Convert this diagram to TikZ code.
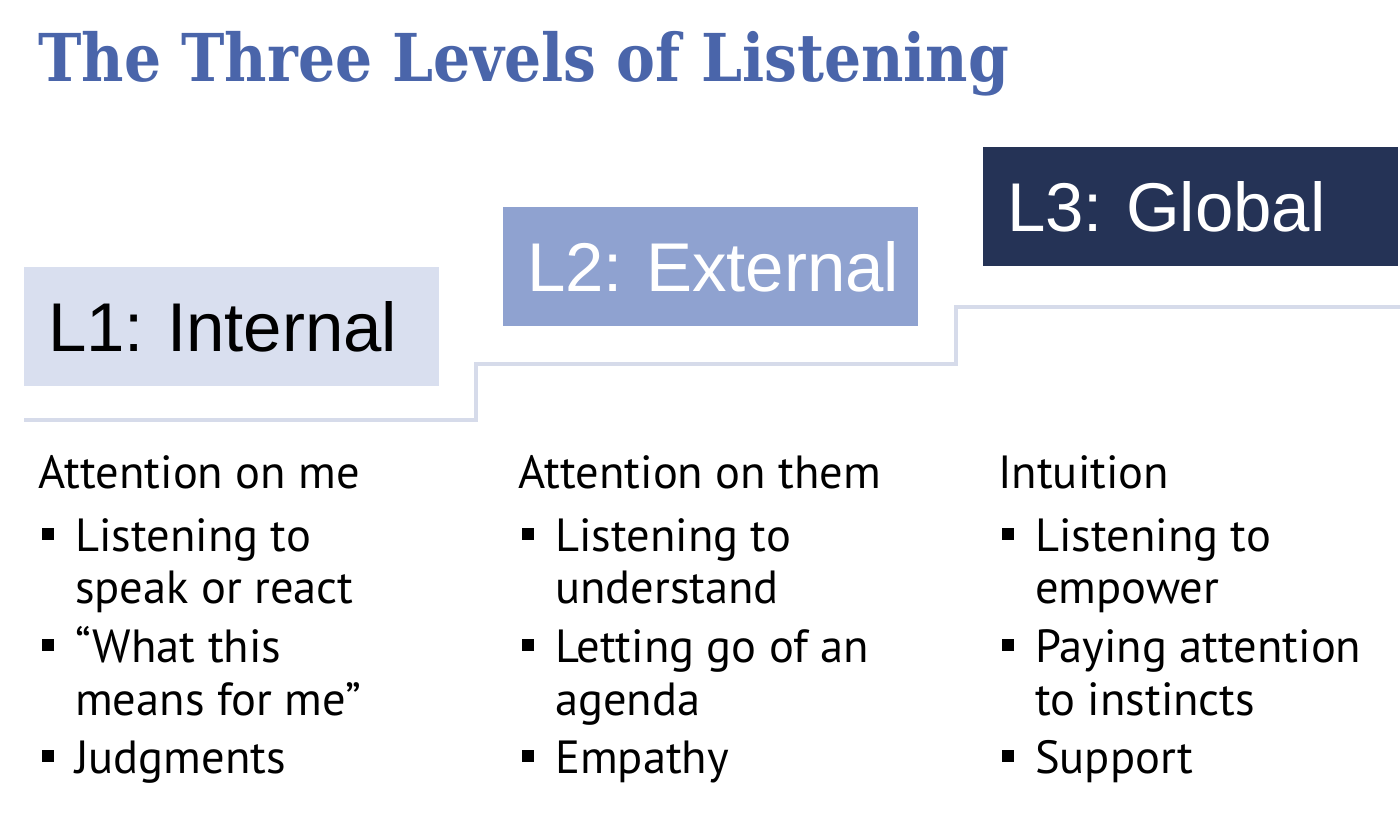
\documentclass[tikz,border=0pt]{standalone}
\usepackage{fontspec}
\usepackage{graphicx}
\setmainfont{PT Sans}
\newfontfamily\titlefont{DejaVu Serif}
\newfontfamily\levelfont{Liberation Sans}
\frenchspacing
\usepackage{tikz}
\usetikzlibrary{positioning}

\definecolor{titleblue}{HTML}{4A65AA}
\definecolor{lonefill}{HTML}{D9DFEF}
\definecolor{ltwofill}{HTML}{8FA2D0}
\definecolor{lthreefill}{HTML}{253356}
\definecolor{stepgray}{HTML}{D6DBEA}

\tikzset{
  levelbox/.style={anchor=north west,minimum height=119pt,text width=367pt,
    inner xsep=24pt,inner ysep=0pt,align=left,
    font=\levelfont\fontsize{69}{78}\selectfont},
  head/.style={anchor=base west,inner sep=0pt,font=\fontsize{46.5}{52}\selectfont},
  item/.style={head},
  bulletsq/.style={fill=black,minimum size=12pt,inner sep=0pt,xshift=-27pt,yshift=17pt}
}

\begin{document}
\begin{tikzpicture}[x=1pt,y=-1pt]
  \useasboundingbox (0,0) rectangle (1400,818);
  \node[anchor=base west,inner sep=0pt,text=titleblue,font=\titlefont\bfseries\fontsize{66}{70}\selectfont]
    (title) at (38,82) {\scalebox{0.884}[1]{The Three Levels of Listening}};

  % the steps
  \draw[stepgray,line width=4pt] (24,420) -- (476,420) -- (476,364) -- (956,364) -- (956,307) -- (1400,307);

  \node[levelbox,fill=lonefill,text=black] (lone) at (24,267) {\mbox{L1: Internal}};
  \node[levelbox,fill=ltwofill,text=white] (ltwo) at (503,207) {\mbox{L2: External}};
  \node[levelbox,fill=lthreefill,text=white] (lthree) at (983,147) {\mbox{L3: Global}};

  % column 1
  \node[head] (hone) at (38,488) {Attention on me};
  \node[item] (oa) at (75,551) {Listening to};
  \node[item] (ob) at (75,603) {speak or react};
  \node[item] (oc) at (75,662) {“What this};
  \node[item] (od) at (75,715) {means for me”};
  \node[item] (oe) at (75,773) {Judgments};
  \node[bulletsq] at (oa.base west) {};
  \node[bulletsq] at (oc.base west) {};
  \node[bulletsq] at (oe.base west) {};

  % column 2
  \node[head] (htwo) at (518,488) {Attention on them};
  \node[item] (ta) at (555,551) {Listening to};
  \node[item] (tb) at (555,603) {understand};
  \node[item] (tc) at (555,662) {Letting go of an};
  \node[item] (td) at (555,715) {agenda};
  \node[item] (te) at (555,773) {Empathy};
  \node[bulletsq] at (ta.base west) {};
  \node[bulletsq] at (tc.base west) {};
  \node[bulletsq] at (te.base west) {};

  % column 3
  \node[head] (hthree) at (998,488) {Intuition};
  \node[item] (ra) at (1035,551) {Listening to};
  \node[item] (rb) at (1035,603) {empower};
  \node[item] (rc) at (1035,662) {Paying attention};
  \node[item] (rd) at (1035,715) {to instincts};
  \node[item] (re) at (1035,773) {Support};
  \node[bulletsq] at (ra.base west) {};
  \node[bulletsq] at (rc.base west) {};
  \node[bulletsq] at (re.base west) {};
\end{tikzpicture}
\end{document}
